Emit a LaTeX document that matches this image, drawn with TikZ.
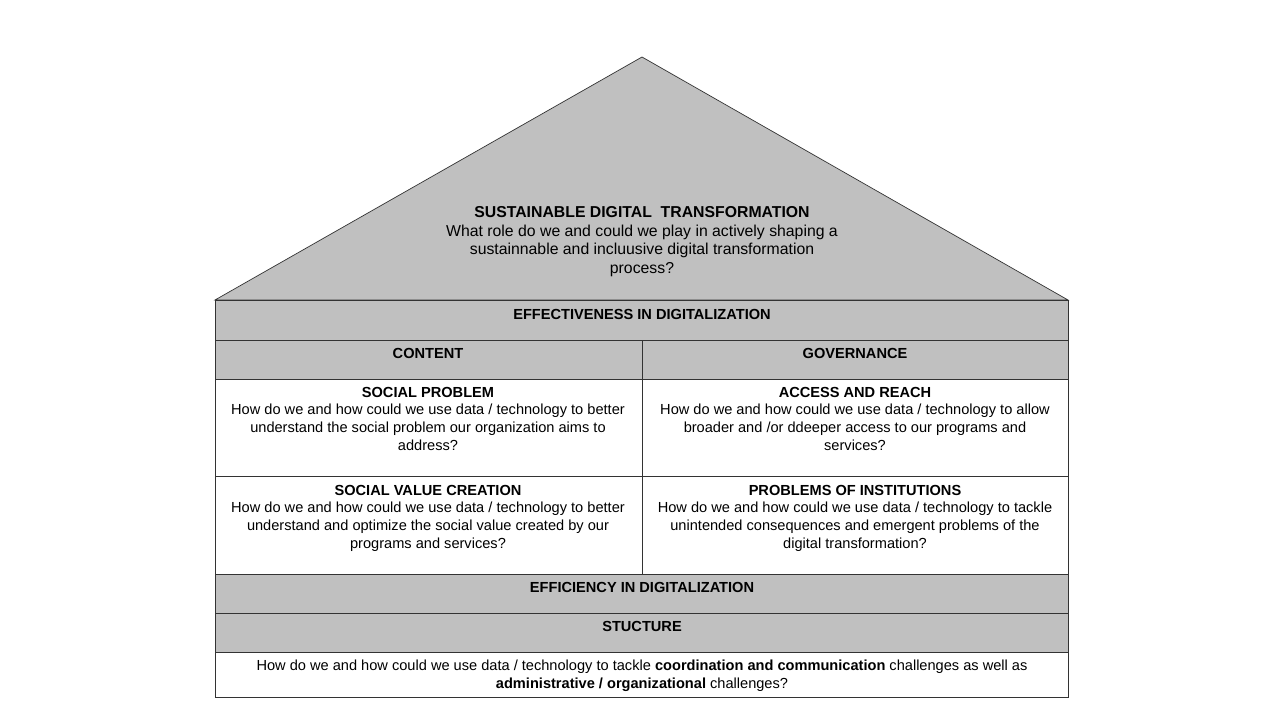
\documentclass[tikz,border=0pt]{standalone}
\usepackage{fontspec}
\setmainfont{Liberation Sans}
\definecolor{housegray}{RGB}{192,192,192}
\begin{document}
\begin{tikzpicture}[x=1pt,y=-1pt]
      \tikzset{box/.style={draw=black!80,line width=0.7pt}}
      \tikzset{shaded/.style={box,fill=housegray}}
      \tikzset{txt/.style={align=center,anchor=north,inner sep=0pt,font=\fontsize{14.6}{17.8}\selectfont}}
      \useasboundingbox[fill=white] (0,0) rectangle (1280,720);
      % roof and rows
      \draw[shaded] (215,300) -- (642,57) -- (1068,300) -- cycle;
      \draw[shaded] (215,300) rectangle (1068,340);
      \draw[shaded] (215,340) rectangle (1068,379);
      \draw[box] (215,379) rectangle (1068,574);
      \draw[box] (215,476) -- (1068,476);
      \draw[box] (642,340) -- (642,574);
      \draw[shaded] (215,574) rectangle (1068,613);
      \draw[shaded] (215,613) rectangle (1068,652);
      \draw[box] (215,652) rectangle (1068,697);
      % texts
      \node[txt,font=\fontsize{15.8}{18.7}\selectfont] (roof) at (642,206.3) {\textbf{SUSTAINABLE DIGITAL\ \ TRANSFORMATION}\\
        What role do we and could we play in actively shaping a\\
        sustainnable and incluusive digital transformation\\ process?};
      \node[txt] (eff) at (642,308.7) {\textbf{EFFECTIVENESS IN DIGITALIZATION}};
      \node[txt] (content) at (428,347.7) {\textbf{CONTENT}};
      \node[txt] (gov) at (855,347.7) {\textbf{GOVERNANCE}};
      \node[txt] (social) at (428,386.7) {\textbf{SOCIAL PROBLEM}\\
        How do we and how could we use data / technology to better\\
        understand the social problem our organization aims to\\ address?};
      \node[txt] (access) at (855,386.7) {\textbf{ACCESS AND REACH}\\
        How do we and how could we use data / technology to allow\\
        broader and /or ddeeper access to our programs and\\ services?};
      \node[txt] (value) at (428,484.7) {\textbf{SOCIAL VALUE CREATION}\\
        How do we and how could we use data / technology to better\\
        understand and optimize the social value created by our\\ programs and services?};
      \node[txt] (inst) at (855,484.7) {\textbf{PROBLEMS OF INSTITUTIONS}\\
        How do we and how could we use data / technology to tackle\\
        unintended consequences and emergent problems of the\\ digital transformation?};
      \node[txt] (effi) at (642,581.7) {\textbf{EFFICIENCY IN DIGITALIZATION}};
      \node[txt] (struct) at (642,620.7) {\textbf{STUCTURE}};
      \node[txt] (coord) at (642,659.7) {How do we and how could we use data / technology to tackle \textbf{coordination and communication} challenges as well as\\
        \textbf{administrative / organizational} challenges?};
\end{tikzpicture}
\end{document}
